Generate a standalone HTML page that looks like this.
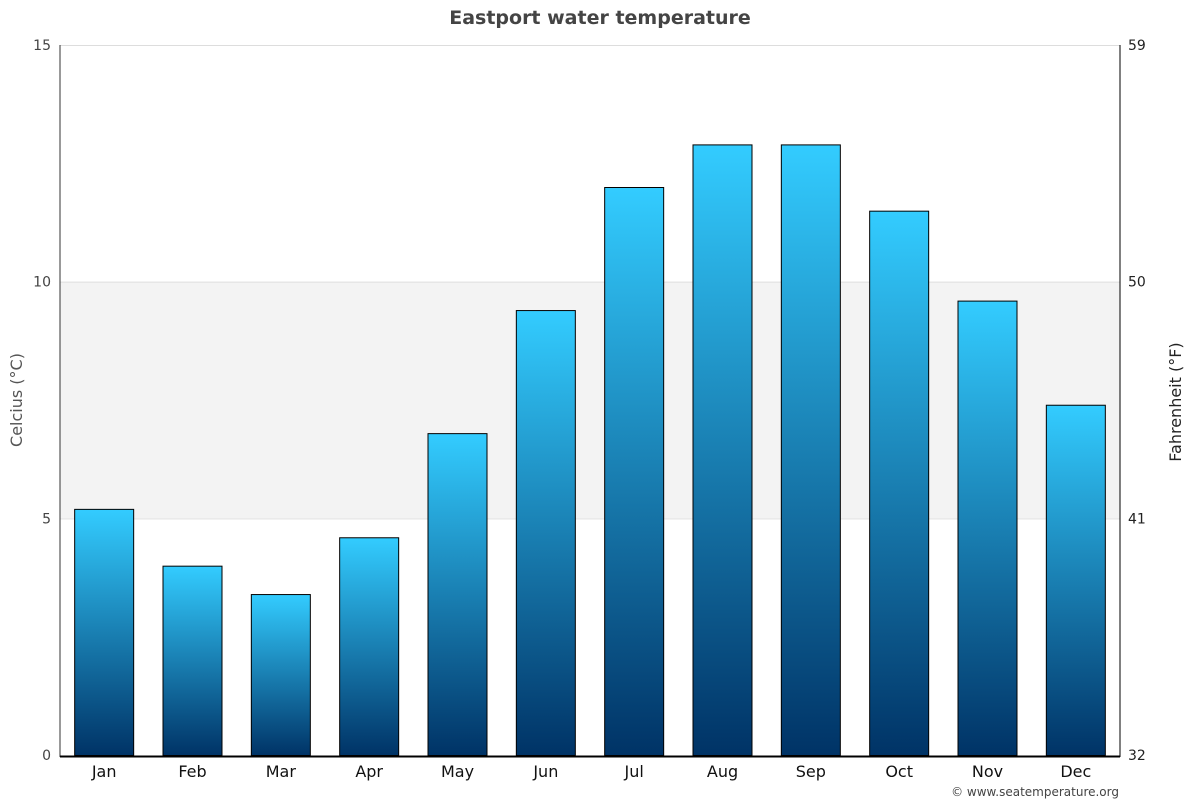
<!DOCTYPE html>
<html><head><meta charset="utf-8"><style>
body{margin:0;background:#fff;}
svg{display:block;font-family:"DejaVu Sans","Liberation Sans",sans-serif;}
</style></head><body>
<svg id="chart" width="1200" height="800">
<defs><linearGradient id="g" x1="0" y1="0" x2="0" y2="1"><stop offset="0" stop-color="#33ccff"/><stop offset="1" stop-color="#003366"/></linearGradient></defs>
<text x="600" y="24" text-anchor="middle" font-size="19" font-weight="bold" fill="#444">Eastport water temperature</text>
<rect x="60" y="282" width="1060" height="236" fill="#f3f3f3"/>
<g id="grid"></g>
<g id="bars"></g>
<line x1="60" y1="45" x2="60" y2="757" stroke="#333"/>
<line x1="1120" y1="45" x2="1120" y2="757" stroke="#000"/>
<line x1="60" y1="756.5" x2="1120" y2="756.5" stroke="#000" stroke-width="2"/>
<g id="labels"></g>
<text transform="translate(22,400) rotate(-90)" text-anchor="middle" font-size="16" fill="#555">Celcius (°C)</text>
<text transform="translate(1181,402) rotate(-90)" text-anchor="middle" font-size="16" fill="#222">Fahrenheit (°F)</text>
<text x="1119" y="796" text-anchor="end" font-size="12" fill="#444">© www.seatemperature.org</text>
</svg>
<script>
const months=["Jan","Feb","Mar","Apr","May","Jun","Jul","Aug","Sep","Oct","Nov","Dec"];
const temps=[5.2,4.0,3.4,4.6,6.8,9.4,12.0,12.9,12.9,11.5,9.6,7.4];
const cTicks=[0,5,10,15];
const fTicks=["32","41","50","59"];
const NS="http://www.w3.org/2000/svg";
const x0=60,x1=1120,yTop=45,yBot=755,max=15;
const y=v=>yBot-(v/max)*(yBot-yTop);
const slot=(x1-x0)/months.length;
function mk(t,a,p){const e=document.createElementNS(NS,t);for(const k in a)e.setAttribute(k,a[k]);p.appendChild(e);return e;}
const grid=document.getElementById('grid'),bars=document.getElementById('bars'),lab=document.getElementById('labels');
cTicks.forEach((c,i)=>{
 if(c>0){const l=mk('line',{x1:x0,x2:x1,y1:y(c)+0.5,y2:y(c)+0.5,stroke:'#ddd'},grid);
 
 }
 const t=mk('text',{x:51,y:y(c)+5,'text-anchor':'end','font-size':14,fill:'#444'},lab);t.textContent=c;
 
 
 const f=mk('text',{x:1128,y:y(c)+5,'font-size':14,fill:'#222'},lab);f.textContent=fTicks[i];
 
 
});
months.forEach((m,i)=>{
 const cx=x0+slot*(i+0.5);
 const r=mk('rect',{x:cx-30+0.5,y:y(temps[i])+0.5,width:59,height:yBot-y(temps[i]),fill:'url(#g)',stroke:'#000','stroke-width':1},bars);
 
 
 const t=mk('text',{x:cx,y:777,'text-anchor':'middle','font-size':16,fill:'#111'},lab);t.textContent=m;
 
 
});
</script>
</body></html>
